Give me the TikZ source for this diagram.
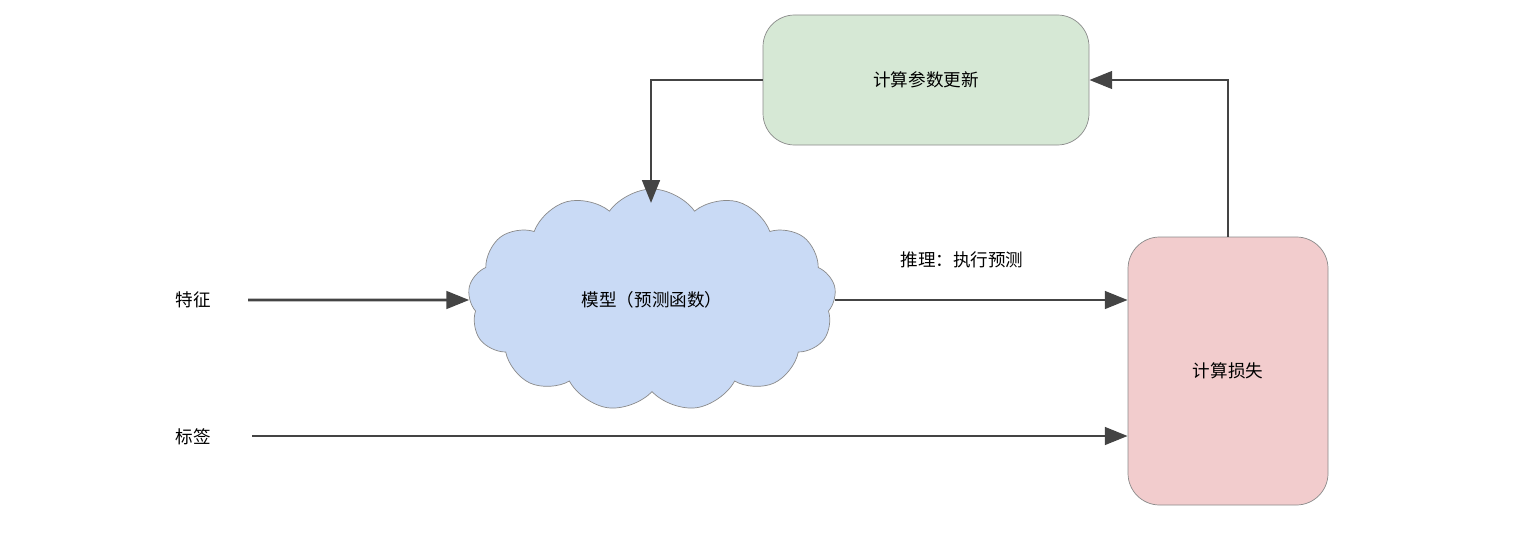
\documentclass[tikz,border=0pt]{standalone}
\usepackage{fontspec}
\setmainfont{Noto Sans CJK SC}
\usetikzlibrary{shapes.symbols,arrows.meta}
\definecolor{boxline}{HTML}{8A8A8A}
\definecolor{arrowgray}{HTML}{444444}
\tikzset{
  box/.style={draw=boxline, rounded corners=18pt, align=center, font=\fontsize{10}{12}\selectfont},
  flow/.style={-{Triangle[length=13pt,width=10pt]}, draw=arrowgray, line width=1.6pt},
  lbl/.style={font=\fontsize{10}{12}\selectfont}
}
\begin{document}
\begin{tikzpicture}[x=0.02cm,y=-0.02cm]
\useasboundingbox (0,0) rectangle (1530,554);
% boxes
\node[box, fill=green!12!white, fill={rgb,255:red,214;green,232;blue,213}, minimum width=326*0.02cm, minimum height=130*0.02cm] (update) at (926,80) {计算参数更新};
\node[box, fill={rgb,255:red,242;green,204;blue,205}, minimum width=200*0.02cm, minimum height=268*0.02cm] (loss) at (1228,371) {计算损失};
\node[cloud, cloud puffs=13, cloud puff arc=110, aspect=1.7, draw=boxline, fill={rgb,255:red,201;green,218;blue,245}, minimum width=368*0.02cm, minimum height=222*0.02cm, inner sep=0pt, font=\fontsize{10}{12}\selectfont] (model) at (652,300) {模型（预测函数）};
% inputs
\node[lbl] (feat) at (193,300) {特征};
\node[lbl] (label) at (193,437) {标签};
\node[lbl] (infer) at (962,260) {推理：执行预测};
\coordinate (featend) at (248,300);
\coordinate (labelend) at (252,436);
% connectors
\draw[flow] (featend) -- (model.west);
\draw[flow] (model.east) -- (loss.west |- model.east);
\draw[flow] (labelend) -- (loss.west |- labelend);
\draw[flow] (loss.north) -- (loss.north |- update.east) -- (update.east);
\draw[flow] (update.west) -- (651,80) -- (651,203);
\end{tikzpicture}
\end{document}
